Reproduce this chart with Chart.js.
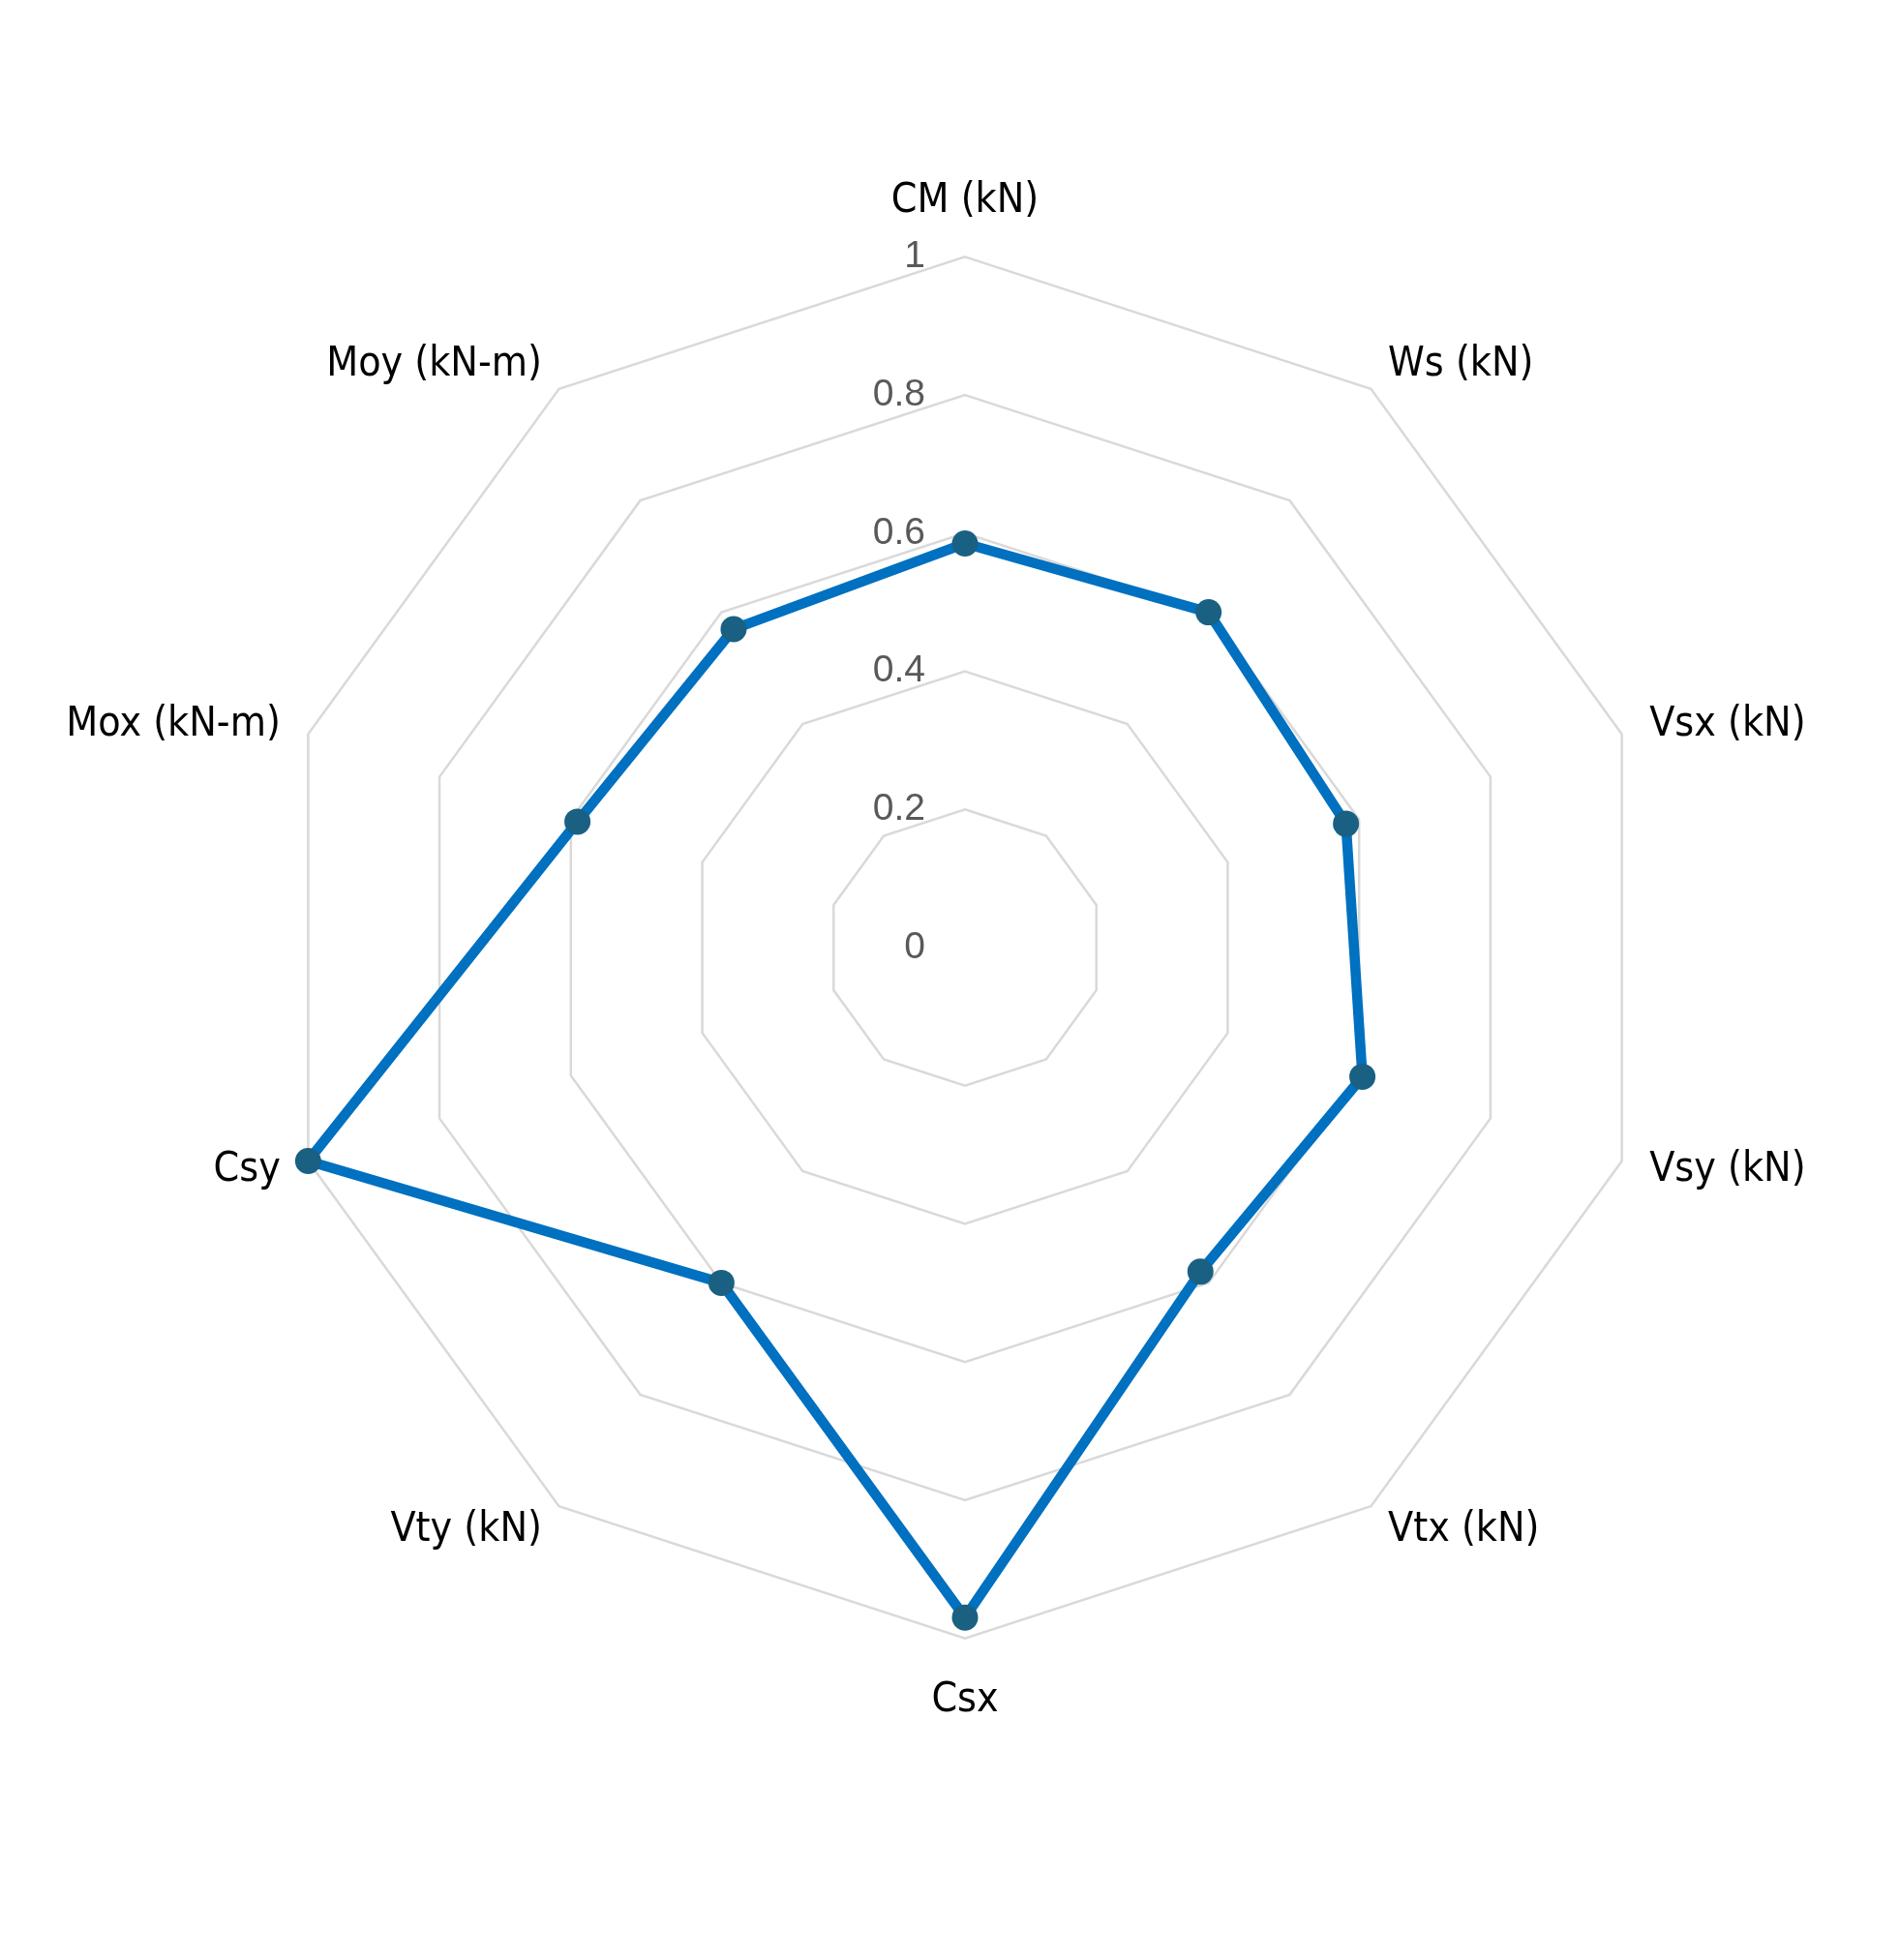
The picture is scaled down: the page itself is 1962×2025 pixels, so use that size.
<!DOCTYPE html>
<html>
<head>
<meta charset="utf-8">
<script src="https://cdn.jsdelivr.net/npm/chart.js@4.4.1/dist/chart.umd.min.js"></script>
<style>
    html, body { margin: 0; padding: 0; background: #ffffff; overflow: hidden; }
    .wrap { position: relative; width: 1994px; height: 2025px; }
</style>
</head>
<body>
<div class="wrap"><canvas id="forces-radar"></canvas></div>
<script>
const categories = ['CM (kN)', 'Ws (kN)', 'Vsx (kN)', 'Vsy (kN)', 'Vtx (kN)', 'Csx', 'Vty (kN)', 'Csy', 'Mox (kN-m)', 'Moy (kN-m)']
const ratioValues = [0.585, 0.60, 0.58, 0.605, 0.58, 0.97, 0.60, 1.0, 0.59, 0.57]
const tickValues = [0, 0.2, 0.4, 0.6, 0.8, 1]
const tickLabels = ['0', '0.2', '0.4', '0.6', '0.8', '1']

// tick labels sit left of the vertical axis, so draw them ourselves off the scale
const sideTicks = {
    id: 'sideTicks',
    beforeDatasetsDraw(chart) {
        const scale = chart.scales.r
        const ctx = chart.ctx
        ctx.save()
        ctx.font = '39px "Liberation Sans", Arial, sans-serif'
        ctx.fillStyle = '#595959'
        ctx.textAlign = 'right'
        ctx.textBaseline = 'middle'
        for (let i = 0; i < tickValues.length; i++) {
            const y = scale.yCenter - scale.getDistanceFromCenterForValue(tickValues[i])
            ctx.fillText(tickLabels[i], scale.xCenter - 41, y)
        }
        ctx.restore()
    }
}

const ctx = document.getElementById('forces-radar')
const chart = new Chart(ctx, {
    type: 'radar',
    data: {
        labels: categories,
        datasets: [{
            label: 'Ratio',
            data: ratioValues,
            borderColor: '#0070C0',
            borderWidth: 10.5,
            backgroundColor: 'rgba(0, 0, 0, 0)',
            fill: false,
            tension: 0,
            pointRadius: 13.5,
            pointBorderWidth: 0,
            pointBackgroundColor: '#1A6082',
            pointBorderColor: '#1A6082'
        }]
    },
    options: {
        responsive: true,
        maintainAspectRatio: false,
        animation: false,
        layout: {
            padding: { left: 0, right: 0, top: 205, bottom: 264 }
        },
        plugins: {
            legend: { display: false },
            tooltip: { enabled: false }
        },
        scales: {
            r: {
                min: 0,
                max: 1,
                beginAtZero: true,
                angleLines: { display: false },
                grid: {
                    color: '#D9D9D9',
                    lineWidth: 2.5
                },
                ticks: {
                    display: false,
                    stepSize: 0.2
                },
                pointLabels: {
                    color: '#000000',
                    padding: (c) => (c.index === 0 ? 57 : c.index === 5 ? 64 : 30),
                    font: {
                        family: '"DejaVu Sans Condensed", sans-serif',
                        size: 42.5,
                        lineHeight: 0.01
                    }
                }
            }
        }
    },
    plugins: [sideTicks]
})
</script>
</body>
</html>
